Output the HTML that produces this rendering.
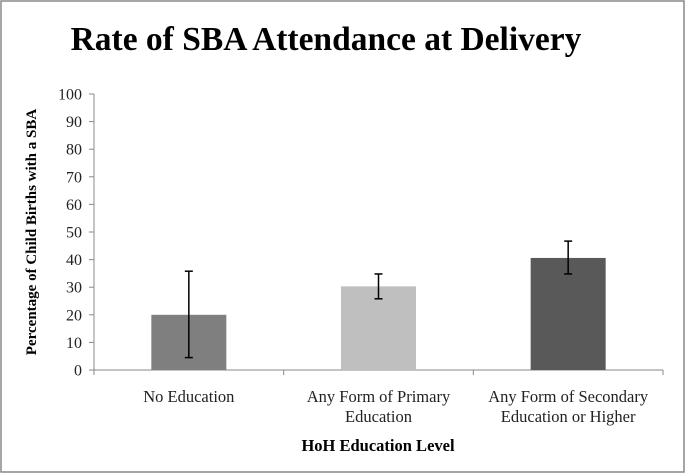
<!DOCTYPE html>
<html><head><meta charset="utf-8"><style>
body{margin:0;background:#fff}
svg{display:block;font-family:"Liberation Serif",serif}
</style></head><body>
<svg width="685" height="473" viewBox="0 0 685 473">
<rect x="1" y="1" width="683" height="471" fill="#fff" stroke="#888" stroke-width="1.5"/>
<text x="326" y="50" text-anchor="middle" font-size="33.5" font-weight="bold" fill="#000">Rate of SBA Attendance at Delivery</text>
<g id="axes"></g>
<g id="bars"></g>
<text transform="translate(36,232) rotate(-90)" text-anchor="middle" font-size="15" font-weight="bold">Percentage of Child Births with a SBA</text>
<text x="378" y="451" text-anchor="middle" font-size="16.5" font-weight="bold">HoH Education Level</text>
</svg>
<script>
const categories=[["No Education"],["Any Form of Primary","Education"],["Any Form of Secondary","Education or Higher"]];
const values=[20,30.3,40.6];
const errHigh=[35.8,34.8,46.7];
const errLow=[4.5,25.8,34.8];
const colors=["#7f7f7f","#bfbfbf","#595959"];
const yTicks=[0,10,20,30,40,50,60,70,80,90,100];
const NS="http://www.w3.org/2000/svg";
const x0=94,x1=663,y0=370,y1=94;
const y=v=>y0-(v/100)*(y0-y1);
const bw=(x1-x0)/categories.length;
const xc=i=>x0+bw*(i+0.5);
function mk(t,a,p){const e=document.createElementNS(NS,t);for(const k in a)e.setAttribute(k,a[k]);p.appendChild(e);return e;}
const ax=document.getElementById('axes'),bg=document.getElementById('bars');
const ya=mk('line',{x1:x0,y1:y1,x2:x0,y2:y0,stroke:'#888','stroke-width':1},ax);


const xa=mk('line',{x1:x0-5,y1:y0,x2:x1,y2:y0,stroke:'#888','stroke-width':1},ax);


yTicks.forEach(t=>{
 mk('line',{x1:x0-5,y1:y(t),x2:x0,y2:y(t),stroke:'#888'},ax);
 const tx=mk('text',{x:x0-12,y:y(t)+5.5,'text-anchor':'end','font-size':16,fill:'#222'},ax);
 tx.textContent=t;
 
 
});
for(let i=0;i<=categories.length;i++) mk('line',{x1:x0+bw*i,y1:y0,x2:x0+bw*i,y2:y0+5,stroke:'#888'},ax);
categories.forEach((c,i)=>{
 const r=mk('rect',{x:xc(i)-37.5,y:y(values[i]),width:75,height:y0-y(values[i]),fill:colors[i]},bg);
 
 
 const g=mk('g',{stroke:'#000','stroke-width':1.5},bg);
 
 
 mk('line',{x1:xc(i),y1:y(errHigh[i]),x2:xc(i),y2:y(errLow[i])},g);
 mk('line',{x1:xc(i)-4,y1:y(errHigh[i]),x2:xc(i)+4,y2:y(errHigh[i])},g);
 mk('line',{x1:xc(i)-4,y1:y(errLow[i]),x2:xc(i)+4,y2:y(errLow[i])},g);
 c.forEach((ln,j)=>{
  const t=mk('text',{x:xc(i),y:402+j*20,'text-anchor':'middle','font-size':16.5,fill:'#222'},ax);
  t.textContent=ln;
  
  
 });
});
</script>
</body></html>
